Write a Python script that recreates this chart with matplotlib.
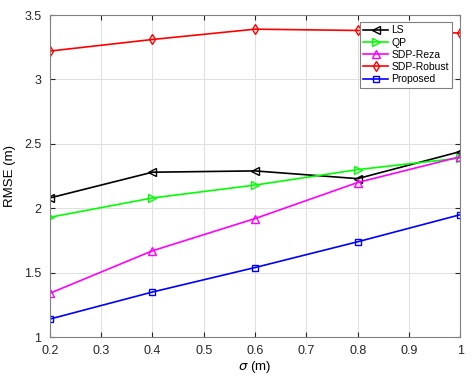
import matplotlib.pyplot as plt
import numpy as np

sigma = [0.2, 0.4, 0.6, 0.8, 1.0]
ls = [2.08, 2.28, 2.29, 2.23, 2.44]
qp = [1.93, 2.08, 2.18, 2.30, 2.39]
sdp_reza = [1.34, 1.67, 1.92, 2.20, 2.40]
sdp_robust = [3.22, 3.31, 3.39, 3.38, 3.36]
proposed = [1.14, 1.35, 1.54, 1.74, 1.95]

plt.rcParams['font.family'] = ['Liberation Sans', 'DejaVu Sans']

fig = plt.figure(figsize=(4.74, 3.75), dpi=100)
ax = fig.add_axes([0.105, 0.101, 0.866, 0.859])

ax.plot(sigma, ls, color='black', marker='<', mfc='none', ms=6, lw=1.2, label='LS')
ax.plot(sigma, qp, color='#00ff00', marker='>', mfc='none', ms=6, lw=1.2, label='QP')
ax.plot(sigma, sdp_reza, color='#ff00ff', marker='^', mfc='none', ms=6, lw=1.2, label='SDP-Reza')
ax.plot(sigma, sdp_robust, color='red', marker='d', mfc='none', ms=5, lw=1.2, label='SDP-Robust')
ax.plot(sigma, proposed, color='blue', marker='s', mfc='none', ms=4, lw=1.2, label='Proposed')

ax.set_xlim(0.2, 1.0)
ax.set_ylim(1, 3.5)
ax.set_xticks(np.arange(0.2, 1.01, 0.1))
ax.set_xticklabels(['0.2', '0.3', '0.4', '0.5', '0.6', '0.7', '0.8', '0.9', '1'])
ax.set_yticks([1, 1.5, 2, 2.5, 3, 3.5])
ax.set_yticklabels(['1', '1.5', '2', '2.5', '3', '3.5'])
ax.grid(True, color='#e0e0e0', lw=0.7)
ax.tick_params(direction='in', labelsize=9, colors='#262626', top=True, right=True, pad=6)
for s in ax.spines.values():
    s.set_color('#808080')
ax.set_xlabel(r'$\sigma$ (m)', fontsize=9.5, labelpad=1)
ax.set_ylabel('RMSE (m)', fontsize=9.5, labelpad=6)

leg = ax.legend(loc='upper right', fontsize=7.5, fancybox=False, framealpha=1,
                edgecolor='#808080', handlelength=2.4, borderpad=0.3,
                labelspacing=0.22, handletextpad=0.3, borderaxespad=0,
                bbox_to_anchor=(0.98, 0.978))
leg.get_frame().set_linewidth(0.8)

fig.savefig('out.png', dpi=100)
